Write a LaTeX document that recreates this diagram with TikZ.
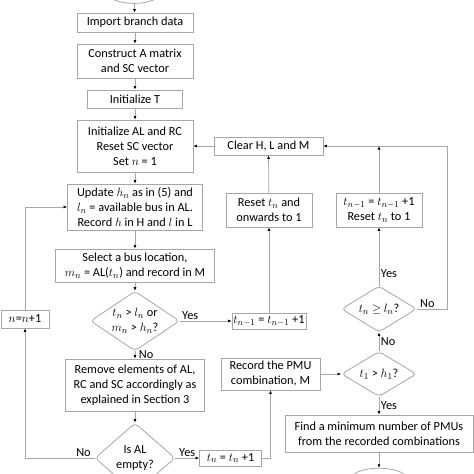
\documentclass[tikz,border=0pt]{standalone}
\usepackage{fontspec}
\setmainfont{Carlito}
\usetikzlibrary{shapes.geometric,arrows.meta}
\tikzset{
  box/.style={draw=gray!70, line width=0.8pt, align=center, inner sep=1pt},
  dec/.style={diamond, draw=gray!70, line width=0.8pt, align=center, inner sep=-3pt, rounded corners=4pt},
  term/.style={ellipse, draw=gray!70, line width=0.8pt, minimum width=52, minimum height=20},
  lbl/.style={inner sep=1.5pt},
  arr/.style={draw=gray!70, line width=0.8pt, -{Latex[length=3.5pt,width=3pt,color=black]}},
}
\begin{document}
\begin{tikzpicture}[x=1pt,y=-1pt,font=\fontsize{12.3}{15}\selectfont]
  \useasboundingbox (0,0) rectangle (474,474);
  \clip (0,0) rectangle (474,474);
  % main column
  \node[term] (start) at (134,-7) {Start};
  \node[box, minimum width=116, minimum height=19] (import) at (135,22.5) {Import branch data};
  \node[box, minimum width=116, minimum height=34] (construct) at (135,61) {Construct A matrix\\and SC vector};
  \node[box, minimum width=95, minimum height=18] (initT) at (135,99) {Initialize T};
  \node[box, minimum width=116, minimum height=52] (initAL) at (135,146) {Initialize AL and RC\\Reset SC vector\\Set $n$ = 1};
  \node[box, minimum width=135, minimum height=46] (update) at (135,207) {Update $h_n$ as in (5) and\\$l_n$ = available bus in AL.\\Record $h$ in H and $l$ in L};
  \node[box, minimum width=159, minimum height=33] (select) at (135,265.5) {Select a bus location,\\$m_n$ = AL($t_n$) and record in M};
  \node[dec, minimum width=89, minimum height=52] (dec1) at (135,321) {$t_n$ > $l_n$ or\\$m_n$ > $h_n$?};
  \node[box, minimum width=139, minimum height=52] (remove) at (135,385) {Remove elements of AL,\\RC and SC accordingly as\\explained in Section 3};
  \node[dec, minimum width=80, minimum height=70] (dec2) at (135,458) {Is AL\\empty?};
  \node[box, minimum width=48, minimum height=18] (inc) at (25,319) {$n$=$n$+1};
  % middle and right columns
  \node[box, minimum width=109, minimum height=18] (clear) at (268.5,146) {Clear H, L and M};
  \node[box, minimum width=86, minimum height=34] (resetn) at (269,210) {Reset $t_n$ and\\onwards to 1};
  \node[box, minimum width=74, minimum height=16] (tprev) at (269,321) {$t_{n-1}$ = $t_{n-1}$ +1};
  \node[box, minimum width=86, minimum height=34] (resetprev) at (379,210) {$t_{n-1}$ = $t_{n-1}$ +1\\Reset $t_n$ to 1};
  \node[dec, minimum width=75, minimum height=46] (dec3) at (379,309) {$t_n$ $\geq$ $l_n$?};
  \node[dec, minimum width=75, minimum height=45] (dec4) at (379,374) {$t_1$ > $h_1$?};
  \node[box, minimum width=99, minimum height=32] (record) at (270.5,374) {Record the PMU\\combination, M};
  \node[box, minimum width=62, minimum height=16] (tinc) at (230.5,458) {$t_n$ = $t_n$ +1};
  \node[box, minimum width=188, minimum height=37] (find) at (379,433.5) {Find a minimum number of PMUs\\from the recorded combinations};
  \node[term, minimum width=56] (end) at (379,479) {End};
  % connectors
  \draw[arr] (start) -- (import);
  \draw[arr] (import) -- (construct);
  \draw[arr] (construct) -- (initT);
  \draw[arr] (initT) -- (initAL);
  \draw[arr] (initAL) -- (update);
  \draw[arr] (update) -- (select);
  \draw[arr] (select) -- (dec1);
  \draw[arr] (dec1) -- node[lbl, right, xshift=2pt] {No} (remove);
  \draw[arr] (remove) -- (dec2);
  \draw[arr] (dec2.west) -| node[lbl, above, pos=0.08] {No} (inc.south);
  \draw[arr] (inc.north) |- (update.west);
  \draw[arr] (dec2.east) -- node[lbl, above] {Yes} (tinc.west);
  \draw[arr] (tinc.east) -| (record.south);
  \draw[arr] (record) -- (dec4);
  \draw[arr] (dec4) -- node[lbl, right] {No} (dec3);
  \draw[arr] (dec4) -- node[lbl, right] {Yes} (find);
  \draw[arr] (find) -- (end);
  \draw[arr] (dec3) -- node[lbl, right, pos=0.2] {Yes} (resetprev);
  \draw[arr] (dec3.east) -- node[lbl, above, pos=0.35] {No} ++(30,0) |- (clear.east);
  \draw[arr] (resetprev) -- (resetprev |- clear);
  \draw[arr] (dec1) -- node[lbl, above, pos=0.2] {Yes} (tprev);
  \draw[arr] (tprev) -- (resetn);
  \draw[arr] (resetn) -- (clear);
  \draw[arr] (clear) -- (initAL);
\end{tikzpicture}
\end{document}
